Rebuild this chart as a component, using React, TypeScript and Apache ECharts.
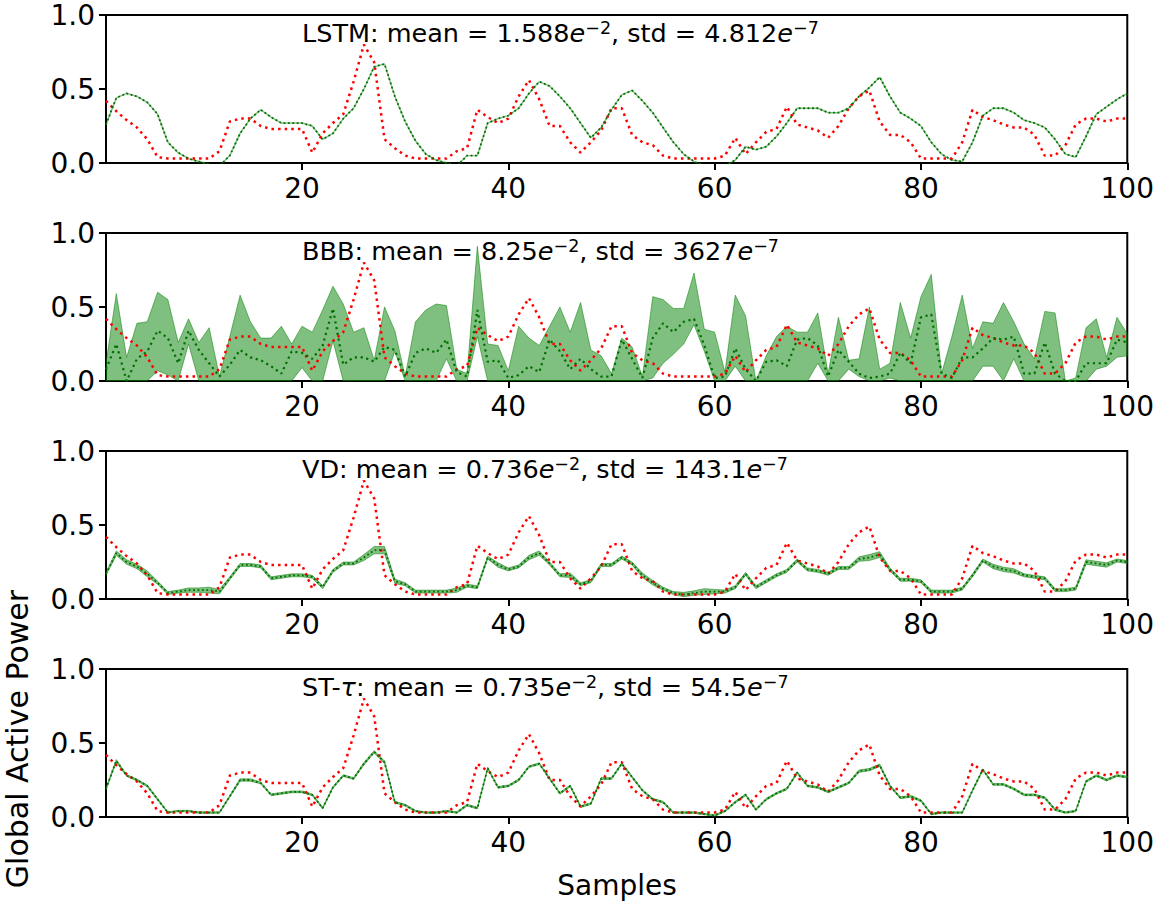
import React, { useEffect, useRef } from "react";
import * as echarts from "echarts";

const FONT = "DejaVu Sans";

// x positions (sample index) and tick values
const SAMPLES = Array.from({ length: 100 }, (_, i) => i + 1);
const X_TICKS = [20, 40, 60, 80, 100];

// ground truth (red dotted), same in every panel
const TRUTH = [
  0.42, 0.35, 0.29, 0.24, 0.16, 0.04, 0.03, 0.03, 0.03, 0.03,
  0.03, 0.08, 0.28, 0.30, 0.30, 0.25, 0.23, 0.23, 0.23, 0.23,
  0.07, 0.20, 0.27, 0.33, 0.55, 0.80, 0.68, 0.16, 0.10, 0.05,
  0.03, 0.03, 0.03, 0.03, 0.08, 0.10, 0.36, 0.31, 0.27, 0.30,
  0.45, 0.56, 0.43, 0.25, 0.25, 0.14, 0.07, 0.14, 0.22, 0.37,
  0.37, 0.19, 0.14, 0.12, 0.05, 0.03, 0.03, 0.03, 0.03, 0.03,
  0.05, 0.17, 0.06, 0.14, 0.21, 0.23, 0.38, 0.26, 0.24, 0.22,
  0.17, 0.25, 0.37, 0.45, 0.49, 0.28, 0.19, 0.19, 0.14, 0.03,
  0.03, 0.03, 0.03, 0.14, 0.36, 0.31, 0.29, 0.26, 0.24, 0.24,
  0.19, 0.05, 0.05, 0.12, 0.26, 0.30, 0.30, 0.28, 0.30, 0.30,
];

// LSTM prediction (std ~ 0, band collapses on the mean)
const LSTM_MEAN = [
  0.26, 0.44, 0.47, 0.45, 0.41, 0.33, 0.14, 0.07, 0.03, 0.01,
  -0.01, -0.02, 0.05, 0.20, 0.30, 0.36, 0.31, 0.27, 0.27, 0.27,
  0.25, 0.16, 0.20, 0.30, 0.37, 0.50, 0.65, 0.67, 0.45, 0.28,
  0.15, 0.06, 0.02, 0.00, -0.02, 0.05, 0.05, 0.27, 0.30, 0.32,
  0.37, 0.47, 0.55, 0.52, 0.45, 0.37, 0.27, 0.17, 0.24, 0.36,
  0.46, 0.49, 0.42, 0.34, 0.24, 0.14, 0.06, 0.01, -0.02, -0.03,
  -0.02, 0.02, 0.11, 0.09, 0.11, 0.18, 0.27, 0.37, 0.37, 0.37,
  0.34, 0.34, 0.37, 0.45, 0.51, 0.58, 0.45, 0.34, 0.30, 0.25,
  0.14, 0.06, 0.02, 0.01, 0.14, 0.32, 0.37, 0.37, 0.34, 0.29,
  0.27, 0.24, 0.16, 0.06, 0.04, 0.18, 0.33, 0.38, 0.43, 0.47,
];

// BBB prediction: mean and uncertainty band
const BBB_MEAN = [
  0.08, 0.25, 0.00, 0.15, 0.20, 0.34, 0.29, 0.12, 0.34, 0.21,
  0.12, 0.03, 0.11, 0.21, 0.16, 0.14, 0.10, 0.05, 0.20, 0.19,
  0.15, 0.24, 0.49, 0.11, 0.16, 0.16, 0.13, 0.23, 0.21, 0.03,
  0.19, 0.22, 0.19, 0.28, 0.06, 0.03, 0.48, 0.13, 0.14, 0.02,
  0.04, 0.10, 0.06, 0.28, 0.20, 0.08, 0.15, 0.08, 0.03, 0.03,
  0.28, 0.15, 0.02, 0.29, 0.39, 0.33, 0.40, 0.42, 0.24, 0.02,
  0.03, 0.22, 0.08, 0.00, 0.13, 0.14, 0.10, 0.28, 0.29, 0.24,
  0.03, 0.21, 0.13, 0.05, 0.02, 0.03, 0.05, 0.19, 0.12, 0.43,
  0.45, 0.05, 0.02, 0.16, 0.16, 0.22, 0.29, 0.28, 0.30, 0.05,
  0.05, 0.26, 0.05, 0.00, 0.00, 0.12, 0.12, 0.12, 0.28, 0.26,
];
const BBB_UPPER = [
  0.12, 0.59, 0.16, 0.39, 0.40, 0.60, 0.55, 0.26, 0.42, 0.26,
  0.36, 0.03, 0.30, 0.58, 0.40, 0.29, 0.29, 0.37, 0.25, 0.37,
  0.33, 0.48, 0.64, 0.52, 0.33, 0.36, 0.14, 0.50, 0.34, 0.03,
  0.40, 0.48, 0.52, 0.51, 0.08, 0.05, 0.91, 0.25, 0.24, 0.07,
  0.37, 0.29, 0.24, 0.37, 0.50, 0.33, 0.53, 0.21, 0.17, 0.05,
  0.29, 0.23, 0.03, 0.57, 0.55, 0.49, 0.49, 0.73, 0.35, 0.33,
  0.06, 0.58, 0.44, 0.00, 0.17, 0.30, 0.37, 0.33, 0.33, 0.46,
  0.05, 0.43, 0.14, 0.15, 0.50, 0.08, 0.12, 0.53, 0.29, 0.57,
  0.72, 0.05, 0.30, 0.58, 0.22, 0.40, 0.39, 0.53, 0.40, 0.25,
  0.15, 0.47, 0.46, 0.00, 0.02, 0.36, 0.42, 0.16, 0.43, 0.32,
];
const BBB_LOWER = [
  0, 0, 0, 0, 0, 0.07, 0.04, 0, 0.25, 0,
  0, 0, 0, 0, 0, 0, 0, 0, 0, 0.09,
  0, 0, 0.27, 0, 0, 0, 0, 0, 0.2, 0,
  0, 0, 0, 0.15, 0, 0, 0.3, 0, 0, 0,
  0, 0, 0, 0, 0, 0, 0, 0, 0, 0,
  0, 0, 0, 0.02, 0.12, 0.18, 0.25, 0.38, 0.2, 0,
  0, 0.1, 0, 0, 0, 0, 0, 0, 0, 0.12,
  0, 0, 0.08, 0.03, 0, 0, 0.02, 0, 0, 0,
  0, 0, 0, 0, 0, 0.1, 0.1, 0, 0.15, 0,
  0, 0, 0, 0, 0, 0, 0.08, 0.1, 0.16, 0.17,
];

// VD prediction: mean and band half-width
const VD_MEAN = [
  0.17, 0.31, 0.25, 0.22, 0.17, 0.11, 0.04, 0.05, 0.06, 0.06,
  0.06, 0.05, 0.14, 0.23, 0.23, 0.22, 0.14, 0.15, 0.16, 0.16,
  0.15, 0.08, 0.19, 0.24, 0.24, 0.28, 0.33, 0.33, 0.12, 0.10,
  0.05, 0.05, 0.05, 0.05, 0.06, 0.09, 0.08, 0.28, 0.23, 0.20,
  0.22, 0.28, 0.31, 0.24, 0.16, 0.16, 0.10, 0.12, 0.23, 0.23,
  0.28, 0.24, 0.16, 0.11, 0.07, 0.04, 0.03, 0.04, 0.05, 0.05,
  0.05, 0.08, 0.17, 0.08, 0.12, 0.16, 0.19, 0.26, 0.20, 0.19,
  0.17, 0.21, 0.21, 0.27, 0.28, 0.30, 0.20, 0.13, 0.13, 0.12,
  0.05, 0.05, 0.05, 0.07, 0.16, 0.26, 0.22, 0.20, 0.19, 0.16,
  0.15, 0.14, 0.06, 0.06, 0.07, 0.25, 0.24, 0.23, 0.26, 0.25,
];
const VD_HALF = [
  0.010, 0.015, 0.015, 0.015, 0.020, 0.010, 0.010, 0.010, 0.015, 0.015,
  0.020, 0.015, 0.010, 0.010, 0.010, 0.010, 0.010, 0.010, 0.010, 0.010,
  0.010, 0.010, 0.010, 0.010, 0.010, 0.020, 0.025, 0.025, 0.015, 0.010,
  0.010, 0.010, 0.010, 0.010, 0.015, 0.010, 0.010, 0.010, 0.015, 0.010,
  0.010, 0.015, 0.015, 0.010, 0.010, 0.015, 0.010, 0.010, 0.010, 0.010,
  0.010, 0.010, 0.015, 0.015, 0.010, 0.010, 0.015, 0.015, 0.020, 0.015,
  0.010, 0.010, 0.010, 0.010, 0.010, 0.010, 0.010, 0.010, 0.010, 0.010,
  0.010, 0.010, 0.010, 0.015, 0.020, 0.020, 0.010, 0.010, 0.010, 0.010,
  0.010, 0.010, 0.010, 0.010, 0.010, 0.010, 0.015, 0.015, 0.015, 0.010,
  0.010, 0.010, 0.010, 0.010, 0.010, 0.015, 0.015, 0.015, 0.010, 0.010,
];

// ST-tau prediction: mean and band half-width
const ST_MEAN = [
  0.19, 0.38, 0.28, 0.25, 0.21, 0.12, 0.03, 0.04, 0.04, 0.03,
  0.03, 0.03, 0.14, 0.25, 0.25, 0.23, 0.15, 0.16, 0.17, 0.17,
  0.15, 0.06, 0.20, 0.28, 0.26, 0.36, 0.44, 0.37, 0.10, 0.08,
  0.04, 0.03, 0.03, 0.04, 0.03, 0.08, 0.06, 0.33, 0.20, 0.21,
  0.25, 0.34, 0.36, 0.26, 0.16, 0.21, 0.07, 0.09, 0.26, 0.26,
  0.36, 0.27, 0.18, 0.12, 0.10, 0.03, 0.03, 0.03, 0.02, 0.01,
  0.04, 0.10, 0.15, 0.05, 0.12, 0.16, 0.19, 0.30, 0.21, 0.20,
  0.17, 0.20, 0.23, 0.31, 0.32, 0.35, 0.21, 0.13, 0.14, 0.11,
  0.02, 0.03, 0.03, 0.03, 0.18, 0.32, 0.22, 0.22, 0.19, 0.15,
  0.15, 0.13, 0.05, 0.03, 0.04, 0.24, 0.28, 0.25, 0.28, 0.27,
];
const ST_HALF = [
  0.006, 0.008, 0.006, 0.006, 0.006, 0.006, 0.005, 0.005, 0.005, 0.005,
  0.005, 0.005, 0.006, 0.008, 0.008, 0.006, 0.006, 0.006, 0.006, 0.006,
  0.006, 0.006, 0.006, 0.006, 0.006, 0.008, 0.008, 0.008, 0.006, 0.006,
  0.005, 0.005, 0.005, 0.005, 0.005, 0.006, 0.006, 0.006, 0.006, 0.006,
  0.006, 0.006, 0.006, 0.006, 0.006, 0.006, 0.006, 0.006, 0.006, 0.006,
  0.006, 0.006, 0.006, 0.006, 0.006, 0.005, 0.005, 0.005, 0.005, 0.005,
  0.005, 0.006, 0.006, 0.006, 0.006, 0.006, 0.006, 0.006, 0.006, 0.006,
  0.006, 0.006, 0.006, 0.008, 0.008, 0.008, 0.006, 0.006, 0.006, 0.006,
  0.005, 0.005, 0.005, 0.005, 0.006, 0.006, 0.006, 0.006, 0.006, 0.006,
  0.006, 0.006, 0.006, 0.005, 0.005, 0.006, 0.006, 0.006, 0.006, 0.006,
];

// panel annotations
const PANEL_NAMES = ["{n|LSTM}", "{n|BBB}", "{n|VD}", "{n|ST-}{i|τ}"];
const MEAN_TEXT = ["1.588", "8.25", "0.736", "0.735"];
const STD_TEXT = ["4.812", "3627", "143.1", "54.5"];

const GRID_TOPS = [15, 233, 451, 669];
const GRID_LEFT = 106;
const GRID_WIDTH = 1022;
const GRID_HEIGHT = 148;

const BAND = "rgba(0,128,0,0.5)";
const MEAN_GREEN = "#006f00";

function pairs(vals: number[]) {
  return SAMPLES.map((x, j) => [x, vals[j]]);
}

// filled band between lower and upper, drawn as one polygon through the axes' scales
function bandSeries(i: number, lower: number[], upper: number[]) {
  return {
    type: "custom",
    xAxisIndex: i,
    yAxisIndex: i,
    silent: true,
    clip: true,
    z: 1,
    data: SAMPLES.map((x, j) => [x, lower[j], upper[j]]),
    encode: { x: 0, y: [1, 2] },
    renderItem: (params: any, api: any) => {
      if (params.dataIndex !== 0) return null;
      const top = SAMPLES.map((x, j) => api.coord([x, upper[j]]));
      const bottom = SAMPLES.map((x, j) => api.coord([x, lower[j]])).reverse();
      return {
        type: "polygon",
        shape: { points: top.concat(bottom) },
        style: { fill: BAND, stroke: BAND, lineWidth: 1 },
      };
    },
  };
}

function dotted(i: number, vals: number[], color: string, w: number, gap: number, z: number) {
  return {
    type: "line",
    xAxisIndex: i,
    yAxisIndex: i,
    data: pairs(vals),
    symbol: "none",
    silent: true,
    z,
    lineStyle: { color, width: w, type: [w, gap] },
  };
}

export default function App() {
  const ref = useRef<HTMLDivElement>(null);

  useEffect(() => {
    if (!ref.current) return;
    const chart = echarts.init(ref.current, null, { renderer: "svg" });

    const grids = GRID_TOPS.map((top) => ({
      left: GRID_LEFT,
      top,
      width: GRID_WIDTH,
      height: GRID_HEIGHT,
      show: true,
      borderColor: "#000",
      borderWidth: 2,
      backgroundColor: "transparent",
    }));

    const xAxes = GRID_TOPS.map((_, i) => ({
      type: "value",
      gridIndex: i,
      min: 1,
      max: 100,
      axisLine: { show: true, onZero: false, lineStyle: { color: "#000", width: 2 } },
      axisTick: { show: true, customValues: X_TICKS, length: 7, lineStyle: { color: "#000", width: 2 } },
      axisLabel: {
        customValues: X_TICKS,
        fontSize: 28,
        color: "#000",
        fontFamily: FONT,
        margin: 11,
      },
      splitLine: { show: false },
    }));

    const yAxes = GRID_TOPS.map((_, i) => ({
      type: "value",
      gridIndex: i,
      min: 0,
      max: 1,
      interval: 0.5,
      axisLine: { show: true, lineStyle: { color: "#000", width: 2 } },
      axisTick: { show: true, length: 7, lineStyle: { color: "#000", width: 2 } },
      axisLabel: {
        fontSize: 28,
        color: "#000",
        fontFamily: FONT,
        margin: 11,
        formatter: (v: number) => v.toFixed(1),
      },
      splitLine: { show: false },
    }));

    const vdLower = VD_MEAN.map((m, j) => m - VD_HALF[j]);
    const vdUpper = VD_MEAN.map((m, j) => m + VD_HALF[j]);
    const stLower = ST_MEAN.map((m, j) => m - ST_HALF[j]);
    const stUpper = ST_MEAN.map((m, j) => m + ST_HALF[j]);

    const series: any[] = [
      // panel 0 : LSTM
      {
        type: "line",
        xAxisIndex: 0,
        yAxisIndex: 0,
        data: pairs(LSTM_MEAN),
        symbol: "none",
        silent: true,
        z: 1,
        lineStyle: { color: BAND, width: 1.4 },
      },
      dotted(0, TRUTH, "#ff0000", 2.5, 4.1, 3),
      dotted(0, LSTM_MEAN, MEAN_GREEN, 1.8, 2.6, 4),
      // panel 1 : BBB
      bandSeries(1, BBB_LOWER, BBB_UPPER),
      dotted(1, TRUTH, "#ff0000", 2.5, 4.1, 3),
      dotted(1, BBB_MEAN, MEAN_GREEN, 2.2, 3.6, 4),
      // panel 2 : VD
      bandSeries(2, vdLower, vdUpper),
      dotted(2, TRUTH, "#ff0000", 2.5, 4.1, 3),
      dotted(2, VD_MEAN, MEAN_GREEN, 1.8, 2.6, 4),
      // panel 3 : ST-tau
      bandSeries(3, stLower, stUpper),
      dotted(3, TRUTH, "#ff0000", 2.5, 4.1, 3),
      dotted(3, ST_MEAN, MEAN_GREEN, 1.8, 2.6, 4),
    ];

    const rich = {
      n: { fontSize: 25.5, fontFamily: FONT, color: "#000", lineHeight: 28 },
      i: { fontSize: 25.5, fontFamily: FONT, color: "#000", fontStyle: "italic", lineHeight: 28 },
      s: { fontSize: 17.5, fontFamily: FONT, color: "#000", lineHeight: 15, verticalAlign: "top" },
    };

    const titles = GRID_TOPS.map((top, i) => ({
      left: 302,
      top: top + 4,
      padding: 0,
      text:
        PANEL_NAMES[i] +
        "{n|: mean = " + MEAN_TEXT[i] + "}{i|e}{s|−2}{n|, std = " + STD_TEXT[i] + "}{i|e}{s|−7}",
      textStyle: { rich, fontSize: 25.5, fontFamily: FONT, fontWeight: "normal", color: "#000" },
    }));

    chart.setOption({
      animation: false,
      backgroundColor: "#fff",
      title: titles,
      grid: grids,
      xAxis: xAxes,
      yAxis: yAxes,
      series,
      graphic: [
        {
          type: "text",
          x: 617,
          y: 885,
          style: {
            text: "Samples",
            font: `28px "${FONT}"`,
            fill: "#000",
            align: "center",
            verticalAlign: "middle",
          },
        },
        {
          type: "text",
          x: 17,
          y: 739,
          rotation: Math.PI / 2,
          style: {
            text: "Global Active Power",
            font: `30px "${FONT}"`,
            fill: "#000",
            align: "center",
            verticalAlign: "middle",
          },
        },
      ],
    });

    return () => chart.dispose();
  }, []);

  return (
    <div
      ref={ref}
      style={{ position: "absolute", left: 0, top: 0, width: 1157, height: 906, background: "#fff" }}
    />
  );
}
